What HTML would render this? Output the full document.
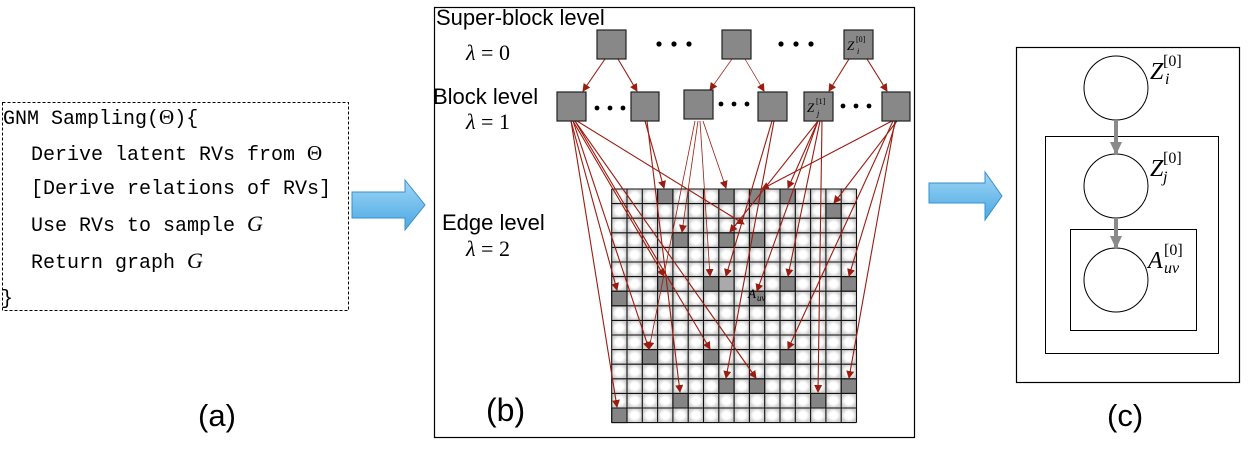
<!DOCTYPE html>
<html><head><meta charset="utf-8"><style>
html,body{margin:0;padding:0;background:#fff;}
svg{display:block;}
.mono{font-family:"Liberation Mono",monospace;font-size:20px;fill:#000;}
.sans{font-family:"Liberation Sans",sans-serif;fill:#000;}
.ser{font-family:"Liberation Serif",serif;fill:#000;}
.it{font-style:italic;}
</style></head><body>
<svg width="1252" height="453" viewBox="0 0 1252 453" xmlns="http://www.w3.org/2000/svg">
<defs>
<marker id="ar" markerWidth="8" markerHeight="8" refX="7" refY="4" orient="auto" markerUnits="userSpaceOnUse"><path d="M0,0 L8,4 L0,8 z" fill="#9b1c10"/></marker>
<marker id="ag" markerWidth="14" markerHeight="14" refX="12" refY="7" orient="auto" markerUnits="userSpaceOnUse"><path d="M0,1 L13,7 L0,13 z" fill="#8a8a8a"/></marker>
<linearGradient id="blue" x1="0" y1="0" x2="0" y2="1"><stop offset="0" stop-color="#9fd6f6"/><stop offset="1" stop-color="#4aa8e3"/></linearGradient>
<radialGradient id="cell"><stop offset="0.5" stop-color="#fff"/><stop offset="1" stop-color="#cfcfcf"/></radialGradient>
<pattern id="cp" x="611.7" y="189" width="15.3" height="14.6" patternUnits="userSpaceOnUse"><rect width="15.3" height="14.6" fill="url(#cell)"/></pattern>
</defs>

<!-- panel a -->
<rect x="2.5" y="102.5" width="346" height="208" fill="none" stroke="#000" stroke-dasharray="3,2"/>
<text class="mono" x="3" y="124">GNM Sampling(<tspan class="ser" font-size="21">Θ</tspan>){</text>
<text class="mono" x="31" y="160">Derive latent RVs from <tspan class="ser" font-size="21">Θ</tspan></text>
<text class="mono" x="31" y="194">[Derive relations of RVs]</text>
<text class="mono" x="31" y="231">Use RVs to sample <tspan class="ser" font-style="italic" font-size="22">G</tspan></text>
<text class="mono" x="31" y="268">Return graph <tspan class="ser" font-style="italic" font-size="22">G</tspan></text>
<text class="mono" x="1" y="304">}</text>
<text class="sans" x="198" y="426" font-size="31">(a)</text>

<!-- arrow a -->
<path d="M352,192 L405,192 L405,180 L425,205 L405,230 L405,218 L352,218 z" fill="url(#blue)" stroke="#3a8fc9" stroke-width="1"/>

<!-- panel b -->
<rect x="434.5" y="7.5" width="480" height="430" fill="#fff" stroke="#000" stroke-width="1.2"/>
<text class="sans" x="436" y="25" font-size="22">Super-block level</text>
<text class="ser" x="466" y="60" font-size="22" font-style="italic">λ <tspan font-style="normal">= 0</tspan></text>
<text class="sans" x="433" y="104" font-size="22">Block level</text>
<text class="ser" x="466" y="129" font-size="22" font-style="italic">λ <tspan font-style="normal">= 1</tspan></text>
<text class="sans" x="442" y="230" font-size="22">Edge level</text>
<text class="ser" x="466" y="256" font-size="22" font-style="italic">λ <tspan font-style="normal">= 2</tspan></text>
<text class="sans" x="486" y="421" font-size="32">(b)</text>

<!-- grid -->
<rect x="611.7" y="189" width="244.8" height="233.6" fill="url(#cp)"/>
<g fill="#858585" stroke="#222" stroke-width="1">
<rect x="657.6" y="189" width="15.3" height="14.6"/>
<rect x="718.8" y="189" width="15.3" height="14.6"/>
<rect x="749.4" y="189" width="15.3" height="14.6"/>
<rect x="780" y="189" width="15.3" height="14.6"/>
<rect x="825.9" y="203.6" width="15.3" height="14.6"/>
<rect x="672.9" y="232.8" width="15.3" height="14.6"/>
<rect x="718.8" y="232.8" width="15.3" height="14.6"/>
<rect x="749.4" y="232.8" width="15.3" height="14.6"/>
<rect x="657.6" y="276.6" width="15.3" height="14.6"/>
<rect x="703.5" y="276.6" width="15.3" height="14.6"/>
<rect x="718.8" y="276.6" width="15.3" height="14.6" fill="#aaa"/>
<rect x="780" y="276.6" width="15.3" height="14.6"/>
<rect x="841.2" y="276.6" width="15.3" height="14.6"/>
<rect x="611.7" y="291.2" width="15.3" height="14.6"/>
<rect x="749.4" y="291.2" width="15.3" height="14.6"/>
<rect x="642.3" y="349.6" width="15.3" height="14.6"/>
<rect x="703.5" y="349.6" width="15.3" height="14.6"/>
<rect x="780" y="349.6" width="15.3" height="14.6"/>
<rect x="718.8" y="378.8" width="15.3" height="14.6"/>
<rect x="749.4" y="378.8" width="15.3" height="14.6"/>
<rect x="841.2" y="378.8" width="15.3" height="14.6"/>
<rect x="672.9" y="393.4" width="15.3" height="14.6"/>
<rect x="810.6" y="393.4" width="15.3" height="14.6"/>
<rect x="611.7" y="408" width="15.3" height="14.6"/>
</g>
<g stroke="#111" stroke-width="1.1">
<path d="M611.7,189V422.6M627,189V422.6M642.3,189V422.6M657.6,189V422.6M672.9,189V422.6M688.2,189V422.6M703.5,189V422.6M718.8,189V422.6M734.1,189V422.6M749.4,189V422.6M764.7,189V422.6M780,189V422.6M795.3,189V422.6M810.6,189V422.6M825.9,189V422.6M841.2,189V422.6M856.5,189V422.6"/>
<path d="M611.7,189H856.5M611.7,203.6H856.5M611.7,218.2H856.5M611.7,232.8H856.5M611.7,247.4H856.5M611.7,262H856.5M611.7,276.6H856.5M611.7,291.2H856.5M611.7,305.8H856.5M611.7,320.4H856.5M611.7,335H856.5M611.7,349.6H856.5M611.7,364.2H856.5M611.7,378.8H856.5M611.7,393.4H856.5M611.7,408H856.5M611.7,422.6H856.5"/>
</g>
<text class="ser it" x="748" y="298" font-size="13">A</text>
<text class="ser it" x="757" y="301" font-size="9">uv</text>

<!-- red arrows -->
<g stroke="#9b1c10" stroke-width="1.1" fill="none" marker-end="url(#ar)">
<line x1="571" y1="121" x2="617" y2="290"/>
<line x1="571" y1="121" x2="617" y2="407"/>
<line x1="573" y1="121" x2="649" y2="349"/>
<line x1="573" y1="121" x2="664" y2="276"/>
<line x1="575" y1="121" x2="710" y2="349"/>
<line x1="575" y1="121" x2="756" y2="378"/>
<line x1="577" y1="121" x2="744" y2="224"/>
<line x1="645" y1="121" x2="664" y2="188"/>
<line x1="647" y1="121" x2="680" y2="392"/>
<line x1="695" y1="121" x2="649" y2="349" stroke-width="0.8"/>
<line x1="698" y1="121" x2="682" y2="232" stroke-width="0.8"/>
<line x1="700" y1="121" x2="710" y2="276" stroke-width="0.8"/>
<line x1="703" y1="121" x2="726" y2="188" stroke-width="0.8"/>
<line x1="772" y1="121" x2="726" y2="276"/>
<line x1="774" y1="121" x2="726" y2="378"/>
<line x1="818" y1="121" x2="730" y2="232"/>
<line x1="818" y1="121" x2="757" y2="291"/>
<line x1="818" y1="121" x2="788" y2="188"/>
<line x1="820" y1="121" x2="788" y2="276"/>
<line x1="822" y1="121" x2="818" y2="392"/>
<line x1="892" y1="121" x2="762" y2="189"/>
<line x1="893" y1="121" x2="788" y2="349"/>
<line x1="895" y1="121" x2="849" y2="378"/>
<line x1="896" y1="121" x2="849" y2="276"/>
<line x1="897" y1="121" x2="834" y2="203"/>
<line x1="605" y1="59" x2="583" y2="91"/>
<line x1="618" y1="59" x2="637" y2="91"/>
<line x1="732" y1="59" x2="710" y2="90" stroke-width="0.7"/>
<line x1="745" y1="59" x2="764" y2="91" stroke-width="0.7"/>
<line x1="849" y1="59" x2="829" y2="91"/>
<line x1="867" y1="59" x2="887" y2="91"/>
</g>

<!-- nodes -->
<g fill="#888" stroke="#222" stroke-width="1.2">
<rect x="597" y="30" width="29" height="29"/>
<rect x="722" y="30" width="29" height="29"/>
<rect x="844" y="30" width="29" height="29"/>
<rect x="557" y="92" width="29" height="29"/>
<rect x="631" y="92" width="28" height="29"/>
<rect x="684" y="90" width="29" height="29"/>
<rect x="758" y="92" width="29" height="29"/>
<rect x="804" y="92" width="29" height="29"/>
<rect x="882" y="92" width="28" height="29"/>
</g>
<g fill="#000">
<circle cx="659" cy="44" r="2.6"/><circle cx="674" cy="44" r="2.6"/><circle cx="689" cy="44" r="2.6"/>
<circle cx="781" cy="44" r="2.6"/><circle cx="796" cy="44" r="2.6"/><circle cx="811" cy="44" r="2.6"/>
<circle cx="597" cy="108" r="2.4"/><circle cx="610" cy="108" r="2.4"/><circle cx="623" cy="108" r="2.4"/>
<circle cx="721" cy="104" r="2.4"/><circle cx="734" cy="104" r="2.4"/><circle cx="747" cy="104" r="2.4"/>
<circle cx="843" cy="106" r="2.4"/><circle cx="856" cy="106" r="2.4"/><circle cx="869" cy="106" r="2.4"/>
</g>
<text class="ser it" x="847" y="50" font-size="13" fill="#222">Z</text>
<text class="ser" x="856" y="42" font-size="8" fill="#222">[0]</text>
<text class="ser it" x="857" y="54" font-size="8" fill="#222">i</text>
<text class="ser it" x="807" y="112" font-size="13" fill="#222">Z</text>
<text class="ser" x="816" y="104" font-size="8" fill="#222">[1]</text>
<text class="ser it" x="817" y="116" font-size="8" fill="#222">j</text>

<!-- arrow c -->
<path d="M929,183 L985,183 L985,172 L1002,196 L985,220 L985,203 L929,203 z" fill="url(#blue)" stroke="#3a8fc9" stroke-width="1"/>

<!-- panel c -->
<rect x="1016.5" y="47.5" width="223" height="335" fill="#fff" stroke="#000" stroke-width="1.2"/>
<rect x="1045.5" y="136.5" width="173" height="217" fill="none" stroke="#000"/>
<rect x="1070.5" y="229.5" width="126" height="101" fill="none" stroke="#000"/>
<g fill="#fff" stroke="#000" stroke-width="1">
<circle cx="1116" cy="88" r="32"/>
<circle cx="1116" cy="186" r="32"/>
<circle cx="1116" cy="280" r="32"/>
</g>
<g stroke="#8a8a8a" stroke-width="4" marker-end="url(#ag)">
<line x1="1116" y1="120" x2="1116" y2="154"/>
<line x1="1116" y1="218" x2="1116" y2="248"/>
</g>
<text class="ser it" x="1150" y="79" font-size="24">Z</text>
<text class="ser" x="1163" y="66" font-size="16">[0]</text>
<text class="ser it" x="1165" y="84" font-size="16">i</text>
<text class="ser it" x="1150" y="176" font-size="24">Z</text>
<text class="ser" x="1163" y="163" font-size="16">[0]</text>
<text class="ser it" x="1163" y="182" font-size="16">j</text>
<text class="ser it" x="1148" y="268" font-size="24">A</text>
<text class="ser" x="1164" y="255" font-size="16">[0]</text>
<text class="ser it" x="1164" y="273" font-size="16">uv</text>
<text class="sans" x="1107" y="426" font-size="31">(c)</text>
</svg>
</body></html>
